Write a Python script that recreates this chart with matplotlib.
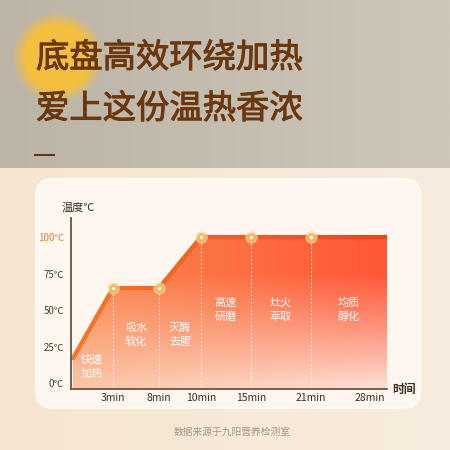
import numpy as np
import matplotlib
matplotlib.use("Agg")
import matplotlib.pyplot as plt
import matplotlib.patheffects as pe
from matplotlib.patches import FancyBboxPatch, Polygon
from matplotlib.collections import LineCollection
from matplotlib.colors import to_rgb

plt.rcParams['font.family'] = ['Noto Sans CJK SC', 'DejaVu Sans']

# data
title_lines = ["底盘高效环绕加热", "爱上这份温热香浓"]
time_labels = ["3min", "8min", "10min", "15min", "21min", "28min"]
tick_slots = [2.1, 4.4, 6.5, 9.0, 12.0, 14.95]     # uneven axis slots for the minute ticks
curve_x = [0.1, 2.1, 4.4, 6.5, 15.8]
curve_temp = [17, 65, 65, 100, 100]
dot_x = [2.1, 4.4, 6.5, 9.0, 12.0]
dot_temp = [65, 65, 100, 100, 100]
temp_ticks = [0, 25, 50, 75, 100]
temp_labels = ["0℃", "25℃", "50℃", "75℃", "100℃"]
stages = ["快速\n加热", "吸水\n软化", "灭酶\n去腥", "高速\n研磨", "灶火\n萃取", "均质\n醇化"]
stage_x = [1.05, 3.25, 5.45, 7.75, 10.5, 13.9]
stage_temp = [11, 33, 33, 50, 50, 50]
source = "数据来源于九阳营养检测室"

fig = plt.figure(figsize=(4.5, 4.5), dpi=100)

# background layer in pixel coords
bg = fig.add_axes([0, 0, 1, 1])
bg.set_xlim(0, 450)
bg.set_ylim(450, 0)
bg.axis("off")


def hgrad(c1, c2, n=200):
    a, b = np.array(to_rgb(c1)), np.array(to_rgb(c2))
    t = np.linspace(0, 1, n)[None, :, None]
    return a + (b - a) * t


bg.imshow(hgrad("#bcb4a6", "#cdc6b9"), extent=(0, 450, 168, 0), aspect="auto", zorder=0)
bg.imshow(hgrad("#f6e5d0", "#f8ecde"), extent=(0, 450, 450, 168), aspect="auto", zorder=0)

# sun glow
yy, xx = np.mgrid[0:140, 0:140]
r = np.hypot(xx - 57, yy - 57)
sun = np.zeros((140, 140, 4))
sun[..., :3] = to_rgb("#f8c03a")
sun[..., 3] = np.clip((46 - r) / 14, 0, 1) * 0.95
bg.imshow(sun, extent=(0, 140, 140, 0), zorder=1)

for i, line in enumerate(title_lines):
    bg.text(36, 58 + i * 51, line, fontsize=24, color="#6a3810", va="center", ha="left",
            zorder=3, path_effects=[pe.withStroke(linewidth=0.7, foreground="#6a3810")])
bg.plot([35, 54], [155, 155], color="#6a3810", lw=1.5, zorder=3)

card = FancyBboxPatch((36, 179), 384, 229, boxstyle="round,pad=0,rounding_size=16",
                      facecolor="#fdf7f0", edgecolor="#fffbf6", lw=1.2, zorder=2)
bg.add_patch(card)

bg.text(78, 208, "温度℃", fontsize=8, color="#3b2c22", ha="center", va="center", zorder=3)
bg.text(404, 389, "时间", fontsize=8.5, color="#3b2c22", ha="center", va="center",
        fontweight="bold", zorder=3)
bg.text(232, 432, source, fontsize=7, color="#a4968a", ha="center", va="center", zorder=3)

# chart
ax = fig.add_axes([71 / 450, (450 - 389) / 450, 316 / 450, 171 / 450])
ax.patch.set_alpha(0)
ax.set_xlim(0, 15.8)
ax.set_ylim(-4, 113)

# gradient fill under the curve
gx = np.linspace(0, 1, 300)[None, :, None]
gy = np.linspace(113, -4, 300)[:, None, None]
top_l, top_r = np.array(to_rgb("#f98a4e")), np.array(to_rgb("#ff5638"))
bot_l, bot_r = np.array(to_rgb("#fbc3a4")), np.array(to_rgb("#fcdbd0"))
top = top_l + (top_r - top_l) * gx
bot = bot_l + (bot_r - bot_l) * gx
t = np.clip(gy / 75, 0, 1) ** 0.9
img = bot + (top - bot) * t
im = ax.imshow(img, extent=(0, 15.8, -4, 113), aspect="auto", zorder=1)
poly = Polygon(list(zip(curve_x, curve_temp)) + [(15.8, -4), (0.1, -4)], closed=True,
               transform=ax.transData, facecolor="none", edgecolor="none")
ax.add_patch(poly)
im.set_clip_path(poly)

for x, tmp in zip(dot_x, dot_temp):
    ax.plot([x, x], [-4, tmp], color="white", lw=0.7, ls=(0, (2, 2)), alpha=0.8, zorder=2)

# curve with orange-to-red colour along x
px, py = [], []
for i in range(len(curve_x) - 1):
    px.extend(np.linspace(curve_x[i], curve_x[i + 1], 40)[:-1])
    py.extend(np.linspace(curve_temp[i], curve_temp[i + 1], 40)[:-1])
px.append(curve_x[-1])
py.append(curve_temp[-1])
px, py = np.array(px), np.array(py)
segs = np.stack([np.column_stack([px[:-1], py[:-1]]), np.column_stack([px[1:], py[1:]])], axis=1)
c0, c1 = np.array(to_rgb("#f6782a")), np.array(to_rgb("#ea4418"))
cols = c0 + (c1 - c0) * (px[:-1] / 15.8)[:, None]
lc = LineCollection(segs, colors=cols, linewidths=3, capstyle="round", joinstyle="round", zorder=3)
ax.add_collection(lc)

ax.scatter(dot_x, dot_temp, s=80, color="#fbd89c", alpha=0.7, zorder=4, lw=0)
ax.scatter(dot_x, dot_temp, s=34, color="#f4b462", zorder=5, lw=0)
ax.scatter(dot_x, dot_temp, s=7, color="#fff6e6", zorder=6, lw=0)

for s, x, tmp in zip(stages, stage_x, stage_temp):
    ax.text(x, tmp, s, fontsize=8, color="white", ha="center", va="center",
            linespacing=1.45, zorder=6)

for side in ["top", "right"]:
    ax.spines[side].set_visible(False)
for side in ["left", "bottom"]:
    ax.spines[side].set_color("#6b5444")
    ax.spines[side].set_linewidth(1.3)
    ax.spines[side].set_zorder(7)

ax.set_xticks(tick_slots)
ax.set_xticklabels(time_labels, fontsize=7.5, color="#3b2c22")
ax.set_yticks(temp_ticks)
ax.set_yticklabels(temp_labels, fontsize=7, color="#4a3a30")
ax.get_yticklabels()[-1].set_color("#e8843a")
ax.tick_params(length=0)
ax.tick_params(axis="y", pad=5)
ax.tick_params(axis="x", pad=3)

fig.savefig("out.png", dpi=100)
